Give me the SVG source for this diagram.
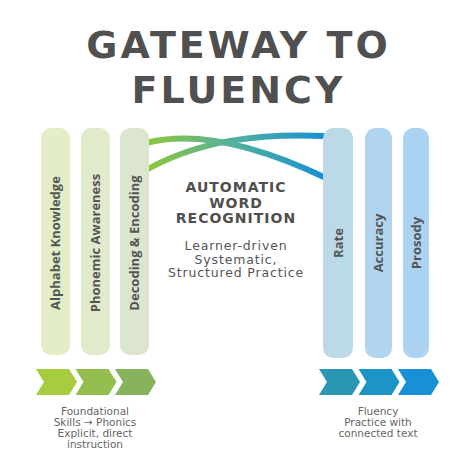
<svg xmlns="http://www.w3.org/2000/svg" width="474" height="474" viewBox="0 0 474 474">
<defs>
<linearGradient id="arc" gradientUnits="userSpaceOnUse" x1="150" y1="0" x2="323" y2="0">
<stop offset="0" stop-color="#8cc63f"/>
<stop offset="0.5" stop-color="#4fb0a0"/>
<stop offset="1" stop-color="#1a8fd4"/>
</linearGradient>
<path id="chev" d="M0,0 H33 L41,13 L33,26 H0 L8,13 Z"/>
</defs>
<style>
.title{font-family:"DejaVu Sans",sans-serif;font-weight:bold;font-size:38px;letter-spacing:3px;fill:#505050;text-anchor:middle}
.lbl{font-family:"Open Sans","DejaVu Sans",sans-serif;font-weight:bold;font-size:13px;fill:#555;text-anchor:middle}
.head{font-family:"DejaVu Sans",sans-serif;font-weight:bold;font-size:14px;letter-spacing:1px;fill:#4f4f4f;text-anchor:middle}
.sub{font-family:"DejaVu Sans",sans-serif;font-size:12.5px;letter-spacing:0.85px;fill:#555;text-anchor:middle}
.cap{font-family:"DejaVu Sans",sans-serif;font-size:10.5px;fill:#666;text-anchor:middle}
.arc{fill:none;stroke:url(#arc);stroke-width:6}
</style>
<rect width="474" height="474" fill="#ffffff"/>
<g id="title">
<text class="title" x="238.5" y="58.4">GATEWAY TO</text>
<text class="title" x="238.5" y="103">FLUENCY</text>
</g>
<g id="connectors">
<path class="arc" d="M146,143 Q215,125 326,178"/>
<path class="arc" d="M146,170 C200,140 260,133 326,136"/>
</g>
<g id="alphabet-knowledge">
<rect x="41" y="128" width="29" height="227" rx="10" fill="#e3eec8"/>
<text class="lbl" transform="translate(60,243) rotate(-90)">Alphabet Knowledge</text>
</g>
<g id="phonemic-awareness">
<rect x="81" y="128" width="29" height="227" rx="10" fill="#e0ebcc"/>
<text class="lbl" transform="translate(100,243) rotate(-90)">Phonemic Awareness</text>
</g>
<g id="decoding-encoding">
<rect x="120" y="128" width="29" height="227" rx="10" fill="#dce6cf"/>
<text class="lbl" transform="translate(139,243) rotate(-90)">Decoding &amp; Encoding</text>
</g>
<g id="automatic-word-recognition">
<text class="head" x="236" y="192">AUTOMATIC</text>
<text class="head" x="236" y="207.5">WORD</text>
<text class="head" x="236" y="223">RECOGNITION</text>
<text class="sub" x="236" y="250">Learner-driven</text>
<text class="sub" x="236" y="263.5">Systematic,</text>
<text class="sub" x="236" y="277">Structured Practice</text>
</g>
<g id="rate">
<rect x="323" y="128" width="30" height="230" rx="10" fill="#bcd9e8"/>
<text class="lbl" transform="translate(343,243) rotate(-90)">Rate</text>
</g>
<g id="accuracy">
<rect x="365" y="128" width="27" height="230" rx="10" fill="#b2d5ef"/>
<text class="lbl" transform="translate(383,243) rotate(-90)">Accuracy</text>
</g>
<g id="prosody">
<rect x="403" y="128" width="26" height="230" rx="10" fill="#acd3f1"/>
<text class="lbl" transform="translate(420.5,243) rotate(-90)">Prosody</text>
</g>
<g id="foundational-skills">
<use href="#chev" x="36" y="369" fill="#a6cd3f"/>
<use href="#chev" x="75.5" y="369" fill="#94bf4e"/>
<use href="#chev" x="115" y="369" fill="#86b35c"/>
<text class="cap" x="95" y="415">Foundational</text>
<text class="cap" x="95" y="426">Skills → Phonics</text>
<text class="cap" x="95" y="437">Explicit, direct</text>
<text class="cap" x="95" y="448">instruction</text>
</g>
<g id="fluency-practice">
<use href="#chev" x="319" y="369" fill="#2a97b2"/>
<use href="#chev" x="358.5" y="369" fill="#1b94c6"/>
<use href="#chev" x="398" y="369" fill="#1890d6"/>
<text class="cap" x="378" y="415">Fluency</text>
<text class="cap" x="378" y="426">Practice with</text>
<text class="cap" x="378" y="437">connected text</text>
</g>
</svg>
